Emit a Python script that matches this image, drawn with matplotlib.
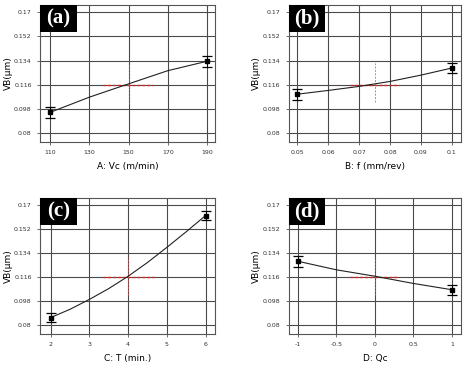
import matplotlib.pyplot as plt
from matplotlib.patches import Rectangle

# values
yticks = [0.08, 0.098, 0.116, 0.134, 0.152, 0.17]
ytick_labels = ['0.08', '0.098', '0.116', '0.134', '0.152', '0.17']

# (a) cutting speed
a_x = [110, 130, 150, 170, 190]
a_y = [0.0955, 0.1068, 0.1167, 0.1265, 0.1335]
a_pts = [110, 190]
a_mean = [0.0955, 0.1335]
a_err = [0.004, 0.004]
a_ticks = [110, 130, 150, 170, 190]
a_tlab = ['110', '130', '150', '170', '190']

# (b) feed
b_x = [0.05, 0.06, 0.07, 0.08, 0.09, 0.1]
b_y = [0.109, 0.1118, 0.1148, 0.1185, 0.1232, 0.1285]
b_pts = [0.05, 0.1]
b_mean = [0.109, 0.1285]
b_err = [0.004, 0.004]
b_ticks = [0.05, 0.06, 0.07, 0.08, 0.09, 0.1]
b_tlab = ['0.05', '0.06', '0.07', '0.08', '0.09', '0.1']

# (c) time
c_x = [2, 2.5, 3, 3.5, 4, 4.5, 5, 5.5, 6]
c_y = [0.0858, 0.092, 0.0994, 0.1075, 0.1167, 0.127, 0.1383, 0.150, 0.1621]
c_pts = [2, 6]
c_mean = [0.0858, 0.1621]
c_err = [0.0035, 0.0037]
c_ticks = [2, 3, 4, 5, 6]
c_tlab = ['2', '3', '4', '5', '6']

# (d) coolant
d_x = [-1, -0.5, 0, 0.5, 1]
d_y = [0.1279, 0.1215, 0.1167, 0.1113, 0.1066]
d_pts = [-1, 1]
d_mean = [0.1279, 0.1066]
d_err = [0.004, 0.0037]
d_ticks = [-1, -0.5, 0, 0.5, 1]
d_tlab = ['-1', '-0.5', '0', '0.5', '1']

panels = [
    ('(a)', 'A: Vc (m/min)', a_x, a_y, a_pts, a_mean, a_err, a_ticks, a_tlab,
     (104.9, 194), 150, (137, 162.6), (0.102, 0.132), [0.0844, 0.612, 0.369, 0.374]),
    ('(b)', 'B: f (mm/rev)', b_x, b_y, b_pts, b_mean, b_err, b_ticks, b_tlab,
     (0.0473, 0.1029), 0.075, (0.067, 0.083), (0.1035, 0.1322), [0.609, 0.612, 0.3635, 0.374]),
    ('(c)', 'C: T (min.)', c_x, c_y, c_pts, c_mean, c_err, c_ticks, c_tlab,
     (1.724, 6.24), 4, (3.34, 4.66), (0.103, 0.131), [0.0844, 0.0874, 0.369, 0.3716]),
    ('(d)', 'D: Qc', d_x, d_y, d_pts, d_mean, d_err, d_ticks, d_tlab,
     (-1.12, 1.117), 0, (-0.33, 0.316), (0.103, 0.131), [0.609, 0.0874, 0.3635, 0.3716]),
]

fig = plt.figure(figsize=(4.74, 3.66), dpi=100)

for tag, xlab, lx, ly, px, pm, pe, xt, xtl, xl, xc, hx, vy, pos in panels:
    ax = fig.add_axes(pos)
    ax.set_xlim(xl)
    ax.set_ylim(0.0735, 0.1752)
    ax.set_xticks(xt)
    ax.set_xticklabels(xtl)
    ax.set_yticks(yticks)
    ax.set_yticklabels(ytick_labels)
    ax.grid(True, color='#4a4a4a', linewidth=0.8)
    ax.set_axisbelow(True)
    ax.tick_params(labelsize=4.5, colors='#333333', length=2, width=0.5, pad=4)
    for s in ax.spines.values():
        s.set_color('#555555')
        s.set_linewidth(0.8)
    # center crosshair
    ax.plot(hx, [0.116, 0.116], color='#dd2222', lw=1.0, ls=(0, (2, 1.5)), zorder=3)
    ax.plot([xc, xc], vy, color='#dd5555', lw=0.7, ls=(0, (2, 1.5)), alpha=0.8, zorder=3)
    ax.plot(lx, ly, color='#222222', lw=0.8, zorder=4)
    ax.errorbar(px, pm, yerr=pe, fmt='s', color='black', ms=2.5,
                capsize=3.5, elinewidth=0.7, capthick=0.9, zorder=5)
    ax.set_xlabel(xlab, fontsize=6.5, labelpad=5)
    ax.set_ylabel('VB(μm)', fontsize=6.5, labelpad=1)
    ax.add_patch(Rectangle((0, 1 - 0.197), 0.211, 0.197, transform=ax.transAxes,
                           fc='black', ec='none', zorder=6, clip_on=False))
    ax.text(0.105, 1 - 0.098, tag, transform=ax.transAxes, ha='center', va='center',
            fontsize=15, fontweight='bold', family='Liberation Serif', color='white',
            zorder=7)

plt.savefig('out.png', dpi=100)
